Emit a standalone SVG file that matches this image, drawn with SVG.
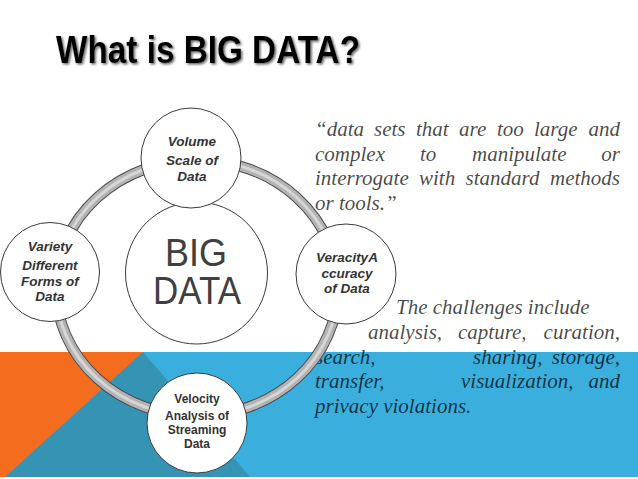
<svg xmlns="http://www.w3.org/2000/svg" width="638" height="479" viewBox="0 0 638 479">
<defs>
<filter id="sh" x="-5%" y="-20%" width="110%" height="150%">
<feDropShadow dx="1.5" dy="1.5" stdDeviation="0.8" flood-color="#555" flood-opacity="0.9"/>
</filter>
</defs>
<style>
.node circle{fill:#fff;stroke:#3a3a3a;stroke-width:1}
.lbl{font-family:"Liberation Sans",Arial,sans-serif;font-weight:bold;font-style:italic;font-size:13.5px;fill:#333;text-anchor:middle}
.lbl2{font-family:"Liberation Sans",Arial,sans-serif;font-weight:bold;font-size:12px;fill:#333;text-anchor:middle}
.big{font-family:"Liberation Sans",Arial,sans-serif;font-size:38px;fill:#404040;text-anchor:middle}
.body{font-family:"Liberation Serif","Times New Roman",serif;font-style:italic;font-size:21px;fill:#000;fill-opacity:.72}
.title{font-family:"Liberation Sans",Arial,sans-serif;font-weight:bold;font-size:39px;fill:#000}
</style>
<rect width="638" height="479" fill="#fff"/>
<g id="background">
<rect x="0" y="352" width="638" height="125" fill="#3aafde"/>
<polygon points="143,352 250,477 0,477 0,352" fill="#3593b4"/>
<polygon points="0,352 143,352 5,477 0,477" fill="#f46d1f"/>
</g>
<g id="title">
<text class="title" x="56" y="63" textLength="304" lengthAdjust="spacingAndGlyphs" filter="url(#sh)">What is BIG DATA?</text>
</g>
<g id="quote" class="body">
<text y="136"><tspan x="315">“data</tspan><tspan x="374">sets</tspan><tspan x="416">that</tspan><tspan x="459">are</tspan><tspan x="497">too</tspan><tspan x="534">large</tspan><tspan x="620" text-anchor="end">and</tspan></text>
<text y="161"><tspan x="315">complex</tspan><tspan x="420">to</tspan><tspan x="472">manipulate</tspan><tspan x="620" text-anchor="end">or</tspan></text>
<text y="185"><tspan x="315">interrogate</tspan><tspan x="419">with</tspan><tspan x="465.5">standard</tspan><tspan x="620" text-anchor="end">methods</tspan></text>
<text y="210" x="315">or tools.”</text>
</g>
<g id="challenges" class="body">
<text y="314" x="396">The challenges include</text>
<text y="339"><tspan x="368">analysis,</tspan><tspan x="458">capture,</tspan><tspan x="620" text-anchor="end">curation,</tspan></text>
<text y="364"><tspan x="315">search,</tspan><tspan x="473">sharing,</tspan><tspan x="620" text-anchor="end">storage,</tspan></text>
<text y="388"><tspan x="315">transfer,</tspan><tspan x="461">visualization,</tspan><tspan x="620" text-anchor="end">and</tspan></text>
<text y="413" x="315">privacy violations.</text>
</g>
<g id="connectors" fill="none">
<ellipse cx="197" cy="288" rx="141" ry="128" stroke="#4a4a4a" stroke-width="11"/>
<ellipse cx="197" cy="288" rx="141" ry="128" stroke="#b3b3b3" stroke-width="9"/>
<ellipse cx="197" cy="288" rx="141" ry="128" stroke="#d6d6d6" stroke-width="3"/>
</g>
<g id="big-data" class="node">
<circle cx="196.5" cy="273" r="71"/>
<text class="big" x="196" y="266" textLength="62" lengthAdjust="spacingAndGlyphs">BIG</text>
<text class="big" x="197" y="304" textLength="88" lengthAdjust="spacingAndGlyphs">DATA</text>
</g>
<g id="volume" class="node">
<circle cx="191" cy="158" r="50"/>
<text class="lbl" x="192" y="146">Volume</text>
<text class="lbl" x="192" y="165">Scale of</text>
<text class="lbl" x="192" y="181">Data</text>
</g>
<g id="variety" class="node">
<circle cx="50" cy="272" r="49.5"/>
<text class="lbl" x="50" y="251">Variety</text>
<text class="lbl" x="50" y="270">Different</text>
<text class="lbl" x="50" y="285.5">Forms of</text>
<text class="lbl" x="50" y="301">Data</text>
</g>
<g id="veracity" class="node">
<circle cx="346" cy="274" r="50"/>
<text class="lbl" x="347" y="262">VeracityA</text>
<text class="lbl" x="347" y="277.5">ccuracy</text>
<text class="lbl" x="347" y="293">of Data</text>
</g>
<g id="velocity" class="node">
<circle cx="197" cy="423" r="50"/>
<text class="lbl2" x="197" y="403">Velocity</text>
<text class="lbl2" x="197" y="420">Analysis of</text>
<text class="lbl2" x="197" y="434">Streaming</text>
<text class="lbl2" x="197" y="448">Data</text>
</g>
</svg>
